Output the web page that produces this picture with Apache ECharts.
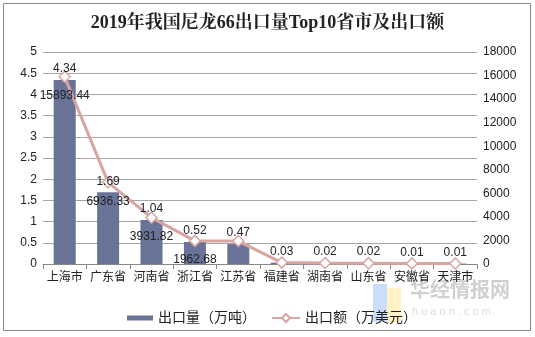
<!DOCTYPE html>
<html><head><meta charset="utf-8">
<script src="https://cdn.jsdelivr.net/npm/echarts@6/dist/echarts.min.js"></script>
<style>html,body{margin:0;padding:0;background:#fff}#c{width:535px;height:337px}</style>
</head><body><div id="c"></div>
<script>
var categories = ['上海市','广东省','河南省','浙江省','江苏省','福建省','湖南省','山东省','安徽省','天津市'];
var exportVolume = [4.34, 1.69, 1.04, 0.52, 0.47, 0.03, 0.02, 0.02, 0.01, 0.01];
var exportValue = [15893.44, 6936.33, 3931.82, 1962.68, 1950, 120, 80, 70, 40, 40];
var valueLabelShown = [true, true, true, true, false, false, false, false, false, false];
var leftTicks = {min: 0, max: 5, interval: 0.5};
var rightTicks = {min: 0, max: 18000, interval: 2000};

var chart = echarts.init(document.getElementById('c'));
var font = 'Liberation Sans, Arial, Noto Sans CJK SC, sans-serif';
var legendText = {fontFamily: font, fontSize: 14, color: '#222'};
chart.setOption({
  backgroundColor: '#fff',
  animation: false,
  title: {
    text: '2019年我国尼龙66出口量Top10省市及出口额',
    left: 'center', top: 9,
    textStyle: {fontFamily: 'Liberation Serif, Noto Serif CJK SC, Noto Sans CJK SC, serif', fontSize: 18, fontWeight: 'bold', color: '#222'}
  },
  graphic: [
    {type: 'rect', shape: {x: 3.5, y: 3.5, width: 527, height: 327}, style: {fill: 'none', stroke: '#888', lineWidth: 1}, silent: true, z: -1},
    {type: 'rect', shape: {x: 373, y: 284, width: 14, height: 38}, style: {fill: 'rgba(150,190,250,0.5)'}, silent: true},
    {type: 'rect', shape: {x: 387, y: 288, width: 14, height: 34}, style: {fill: 'rgba(255,230,140,0.5)'}, silent: true},
    {type: 'text', left: 410, top: 279, style: {text: '华经情报网', fill: 'rgba(170,170,170,0.55)', font: 'bold 20px Noto Sans CJK SC'}, silent: true},
    {type: 'text', left: 412, top: 306, style: {text: 'h u a o n . c o m', fill: 'rgba(190,190,190,0.55)', font: '11px Liberation Sans'}, silent: true}
  ],
  grid: {left: 43, right: 58, top: 52, bottom: 73},
  legend: [
    {left: 122, top: 306, itemWidth: 26, itemHeight: 5, textStyle: legendText,
     data: [{name: '出口量（万吨）', icon: 'rect'}]},
    {left: 266, top: 306, itemWidth: 28, itemHeight: 10, textStyle: legendText,
     data: [{name: '出口额（万美元）'}]}
  ],
  xAxis: {
    type: 'category', data: categories,
    axisLine: {lineStyle: {color: '#888'}},
    axisTick: {show: true, length: 5, lineStyle: {color: '#888'}},
    axisLabel: {color: '#222', fontSize: 12, fontFamily: font, interval: 0, margin: 8}
  },
  yAxis: [
    {type: 'value', min: leftTicks.min, max: leftTicks.max, interval: leftTicks.interval,
     axisLine: {show: false}, axisTick: {show: false},
     splitLine: {lineStyle: {color: '#a6a6a6'}},
     axisLabel: {color: '#222', fontSize: 12, fontFamily: font, margin: 6}},
    {type: 'value', min: rightTicks.min, max: rightTicks.max, interval: rightTicks.interval,
     axisLine: {show: false}, axisTick: {show: false}, splitLine: {show: false},
     axisLabel: {color: '#222', fontSize: 12, fontFamily: font, margin: 6,
       formatter: function (v) { return String(v); }}}
  ],
  series: [
    {
      name: '出口量（万吨）', type: 'bar', data: exportVolume, barWidth: 22, yAxisIndex: 0,
      itemStyle: {color: '#687397'}, z: 2
    },
    {
      name: 'volLabels', type: 'bar', data: exportVolume, barWidth: 22, barGap: '-100%', yAxisIndex: 0,
      itemStyle: {color: 'rgba(0,0,0,0)'}, z: 5, silent: true,
      label: {show: true, position: 'top', distance: 5, color: '#222', fontSize: 12, fontFamily: font}
    },
    {
      name: '出口额（万美元）', type: 'line', yAxisIndex: 1,
      data: exportValue.map(function (v, i) {
        return {value: v, label: {show: valueLabelShown[i]}};
      }),
      symbol: 'diamond', symbolSize: 11,
      lineStyle: {color: '#d7a5a2', width: 3},
      itemStyle: {color: '#fff', borderColor: '#d7a5a2', borderWidth: 1.5},
      label: {show: true, position: 'bottom', distance: 7, color: '#222', fontSize: 12, fontFamily: font},
      z: 3
    }
  ]
});
</script></body></html>
